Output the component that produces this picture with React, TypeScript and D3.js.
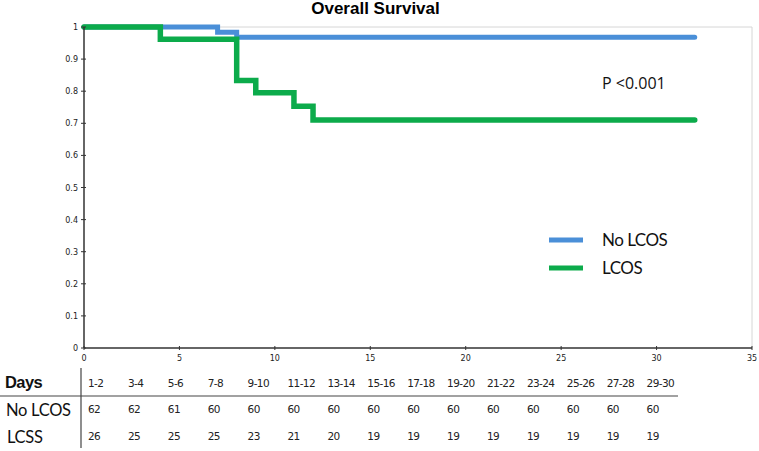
import * as d3 from "d3"

// Kaplan-Meier steps
const noLcosDays = [0, 7, 8, 32]
const noLcosSurv = [1, 0.984, 0.968, 0.968]
const lcosDays = [0, 4, 8, 9, 11, 12, 32]
const lcosSurv = [1, 0.962, 0.833, 0.795, 0.753, 0.71, 0.71]

const xTicks = [0, 5, 10, 15, 20, 25, 30, 35]
const yTicks = [0, 0.1, 0.2, 0.3, 0.4, 0.5, 0.6, 0.7, 0.8, 0.9, 1]

// number-at-risk table
const dayBins = ["1-2", "3-4", "5-6", "7-8", "9-10", "11-12", "13-14", "15-16", "17-18", "19-20", "21-22", "23-24", "25-26", "27-28", "29-30"]
const noLcosRisk = [62, 62, 61, 60, 60, 60, 60, 60, 60, 60, 60, 60, 60, 60, 60]
const lcssRisk = [26, 25, 25, 25, 23, 21, 20, 19, 19, 19, 19, 19, 19, 19, 19]

const W = 759
const H = 451
const left = 84
const right = 752
const top = 27
const bottom = 348

const BLUE = "#4a8fd8"
const GREEN = "#0cab4b"

const App = () => {
  const x = d3.scaleLinear().domain([0, 35]).range([left, right])
  const y = d3.scaleLinear().domain([0, 1]).range([bottom, top])

  const step = d3
    .line<[number, number]>()
    .x(d => x(d[0]))
    .y(d => y(d[1]))
    .curve(d3.curveStepAfter)

  const blueD = step(noLcosDays.map((t, i) => [t, noLcosSurv[i]])) || ""
  const greenD = step(lcosDays.map((t, i) => [t, lcosSurv[i]])) || ""

  // table columns, ~40px apart
  const col = d3.scaleLinear().domain([0, 1]).range([88, 127.9])

  const tickFont = "DejaVu Sans, sans-serif"
  const tableFont = "DejaVu Sans, sans-serif"

  return (
    <svg
      width={W}
      height={H}
      style={{ position: "fixed", left: 0, top: 0, background: "#fff" }}
    >
      {/* title */}
      <text
        x={375.5}
        y={14}
        textAnchor="middle"
        fontFamily="Liberation Sans, Arial, sans-serif"
        fontWeight="bold"
        fontSize={17}
      >
        Overall Survival
      </text>

      {/* frame */}
      <line x1={left} x2={right} y1={top} y2={top} stroke="#d6d6d6" strokeWidth={1} />
      <line x1={right} x2={right} y1={top} y2={bottom} stroke="#d6d6d6" strokeWidth={1} />

      {/* curves */}
      <path d={blueD} fill="none" stroke={BLUE} strokeWidth={5} strokeLinecap="round" />
      <path d={greenD} fill="none" stroke={GREEN} strokeWidth={5.5} strokeLinecap="round" />

      {/* y axis */}
      <line x1={left} x2={left} y1={top} y2={bottom} stroke="#333" strokeWidth={1.5} />
      {yTicks.map(t => (
        <g key={t}>
          <line x1={left - 3} x2={left + 2} y1={y(t)} y2={y(t)} stroke="#333" strokeWidth={1} />
          <text
            x={left - 6}
            y={y(t) + 3}
            textAnchor="end"
            fontFamily={tickFont}
            fontSize={8}
            fill="#222"
          >
            {t}
          </text>
        </g>
      ))}

      {/* x axis */}
      <line x1={left} x2={right} y1={bottom} y2={bottom} stroke="#333" strokeWidth={1.5} />
      {xTicks.map(t => (
        <g key={t}>
          <line x1={x(t)} x2={x(t)} y1={bottom - 2} y2={bottom + 2} stroke="#333" strokeWidth={1} />
          <text
            x={x(t)}
            y={bottom + 13}
            textAnchor="middle"
            fontFamily={tickFont}
            fontSize={8}
            fill="#222"
          >
            {t}
          </text>
        </g>
      ))}

      {/* p value */}
      <text x={602} y={89} fontFamily="Open Sans, sans-serif" fontSize={16} fill="#111">
        P &lt;0.001
      </text>

      {/* legend */}
      <line x1={549} x2={583} y1={240} y2={240} stroke={BLUE} strokeWidth={5} />
      <line x1={549} x2={583} y1={268} y2={268} stroke={GREEN} strokeWidth={5} />
      <text x={602} y={246} fontFamily="Lato, sans-serif" fontSize={17} letterSpacing={-0.5} fill="#111">
        No LCOS
      </text>
      <text x={602} y={274} fontFamily="Lato, sans-serif" fontSize={17} letterSpacing={-0.5} fill="#111">
        LCOS
      </text>

      {/* risk table */}
      <line x1={81} x2={81} y1={368} y2={448} stroke="#444" strokeWidth={1.2} />
      <line x1={0} x2={678} y1={396} y2={396} stroke="#444" strokeWidth={1.2} />
      <text
        x={5}
        y={388}
        fontFamily="Liberation Sans, Arial, sans-serif"
        fontWeight="bold"
        fontSize={16.5}
        letterSpacing={-0.6}
        fill="#111"
      >
        Days
      </text>
      <text x={6} y={416} fontFamily="Lato, sans-serif" fontSize={16.5} letterSpacing={-0.3} fill="#111">
        No LCOS
      </text>
      <text x={7} y={443} fontFamily="Lato, sans-serif" fontSize={16.5} letterSpacing={-0.3} fill="#111">
        LCSS
      </text>
      {dayBins.map((b, i) => (
        <g key={b}>
          <text x={col(i)} y={387} fontFamily={tableFont} fontSize={10.5} letterSpacing={-0.6} fill="#222">
            {b}
          </text>
          <text x={col(i)} y={413} fontFamily={tableFont} fontSize={10.5} letterSpacing={-0.6} fill="#222">
            {noLcosRisk[i]}
          </text>
          <text x={col(i)} y={440} fontFamily={tableFont} fontSize={10.5} letterSpacing={-0.6} fill="#222">
            {lcssRisk[i]}
          </text>
        </g>
      ))}
    </svg>
  )
}

export default App
